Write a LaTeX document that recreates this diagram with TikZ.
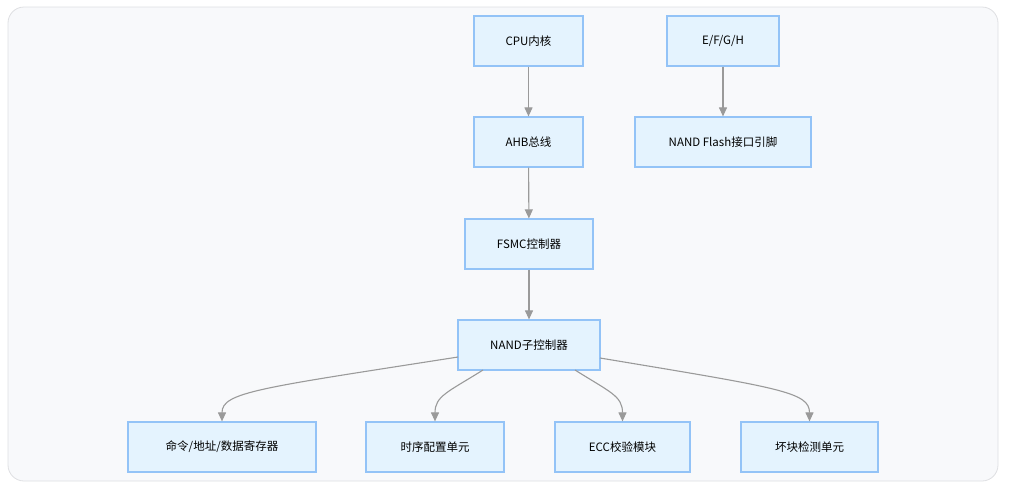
\documentclass[tikz,border=0pt]{standalone}
\usepackage{fontspec}
\setmainfont{Noto Sans CJK SC}
\usetikzlibrary{arrows.meta}
\definecolor{boxfill}{HTML}{E4F3FE}
\definecolor{boxline}{HTML}{93C3F7}
\definecolor{edgecol}{HTML}{9A9A9A}
\definecolor{bgfill}{HTML}{F8F9FB}
\definecolor{bgline}{HTML}{DEDFE2}
\begin{document}
\begin{tikzpicture}[x=1pt,y=-1pt,
  blk/.style={draw=boxline,fill=boxfill,line width=1.2pt,inner sep=0pt,font=\fontsize{11.5}{13}\selectfont},
  conn/.style={draw=edgecol,line width=1.1pt,-{Triangle[length=9pt,width=8pt]}}]
\useasboundingbox (0,0) rectangle (1013,485);
\draw[bgline,fill=bgfill,line width=0.8pt,rounded corners=16pt] (8,7) rectangle (998,481);
\node[blk,minimum width=109pt,minimum height=50pt] (cpu) at (528.5,41) {CPU内核};
\node[blk,minimum width=112pt,minimum height=50pt] (efgh) at (723,41) {E/F/G/H};
\node[blk,minimum width=109pt,minimum height=50pt] (ahb) at (528.5,142) {AHB总线};
\node[blk,minimum width=176pt,minimum height=50pt] (pins) at (723,142) {NAND Flash接口引脚};
\node[blk,minimum width=128pt,minimum height=50pt] (fsmc) at (529,244) {FSMC控制器};
\node[blk,minimum width=142pt,minimum height=50pt] (nand) at (529,345) {NAND子控制器};
\node[blk,minimum width=188pt,minimum height=50pt] (reg) at (222,447) {命令/地址/数据寄存器};
\node[blk,minimum width=138pt,minimum height=50pt] (tim) at (435,447) {时序配置单元};
\node[blk,minimum width=135pt,minimum height=50pt] (ecc) at (622.5,447) {ECC校验模块};
\node[blk,minimum width=137pt,minimum height=50pt] (bad) at (809.5,447) {坏块检测单元};
\draw[conn] (cpu) -- (ahb);
\draw[conn] (efgh) -- (pins);
\draw[conn] (ahb) -- (fsmc);
\draw[conn] (fsmc) -- (nand);
\coordinate (s1) at (458,357);
\coordinate (s2) at (483,370);
\coordinate (s3) at (575,370);
\coordinate (s4) at (600,358);
\draw[conn] (s1) .. controls (260,388) and (222,392) .. (reg.north);
\draw[conn] (s2) .. controls (448,392) and (435,396) .. (tim.north);
\draw[conn] (s3) .. controls (610,392) and (622.5,396) .. (ecc.north);
\draw[conn] (s4) .. controls (780,388) and (809.5,392) .. (bad.north);
\end{tikzpicture}
\end{document}
